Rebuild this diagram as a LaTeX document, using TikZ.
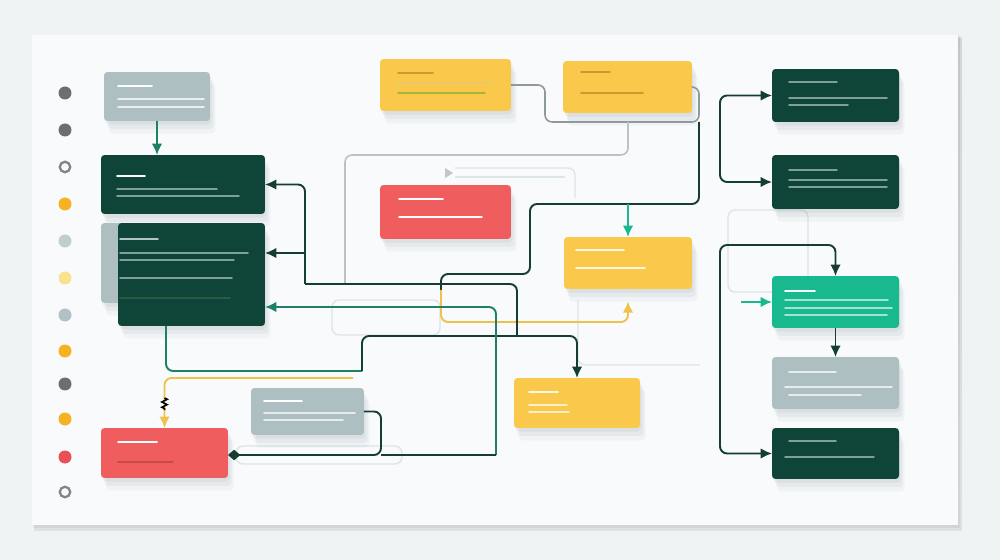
\documentclass[tikz,border=0pt]{standalone}
\usepackage{xcolor}
\usepackage{tikz}
\usetikzlibrary{shapes,arrows,arrows.meta,calc}
\usetikzlibrary{decorations.pathmorphing}

\definecolor{pagebg}{HTML}{EFF3F4}
\definecolor{cardbg}{HTML}{F8FAFB}
\definecolor{deep}{HTML}{0F4439}
\definecolor{slate}{HTML}{AEBFC1}
\definecolor{sun}{HTML}{FAC94B}
\definecolor{coral}{HTML}{EF5D5E}
\definecolor{mint}{HTML}{19B98F}
\definecolor{wire}{HTML}{163D33}
\definecolor{wireteal}{HTML}{1F8068}
\definecolor{wiregray}{HTML}{8E9A9A}
\definecolor{wiresun}{HTML}{EFC24A}
\definecolor{faint}{HTML}{DCE6E7}
\definecolor{ochre}{HTML}{C99A2C}
\definecolor{olive}{HTML}{A8B43A}
\definecolor{palesun}{HTML}{F3D27A}
\definecolor{dimline}{HTML}{7F9F97}
\definecolor{dimred}{HTML}{C84A4A}
\definecolor{dimgreen}{HTML}{2A5A40}
\definecolor{dotgray}{HTML}{6C6F71}
\definecolor{amber}{HTML}{F5B323}
\definecolor{paleamber}{HTML}{F9E28D}
\definecolor{mist}{HTML}{C2CDD0}
\definecolor{mistdark}{HTML}{B2C1C5}
\definecolor{dotred}{HTML}{EA4F55}
\definecolor{shade}{HTML}{5E7378}

% text bars inside a box: dx/dy/length/colour, measured from the top left corner
\newcommand{\boxbars}[2]{%
  \foreach \dx/\dy/\len/\cc in {#2}
    {\draw[txtbar, draw=\cc] ($(#1.north west)+(\dx,\dy)$) -- ++(\len,0);}}

\begin{document}
\begin{tikzpicture}[x=0.02cm, y=-0.02cm,
			block/.style={
					rectangle,
					rounded corners=2pt,
					inner sep=0pt,
					outer sep=0pt,
					minimum width=2.54cm,
					minimum height=1.04cm,
					preaction={fill=shade, opacity=0.05, transform canvas={xshift=3pt, yshift=-7pt}},
					preaction={fill=shade, opacity=0.07, transform canvas={xshift=2pt, yshift=-4.5pt}},
					preaction={fill=shade, opacity=0.08, transform canvas={xshift=0.8pt, yshift=-2pt}}
				},
			txtbar/.style={line width=1pt, line cap=round},
			line/.style={draw=wire, line width=1.1pt, rounded corners=4pt, -{Latex[length=6.5pt, width=6pt]}},
			tline/.style={line, draw=wireteal},
			yline/.style={line, draw=wiresun},
			gline/.style={draw=wiregray, line width=0.9pt, rounded corners=4pt},
			guide/.style={draw=faint, line width=0.8pt, rounded corners=4pt}
		]
		\useasboundingbox (0,0) rectangle (1000,560);
		% Background and card
		\fill[pagebg] (0,0) rectangle (1000,560);
		\fill[shade, opacity=0.08] (34,38) rectangle (962,531);
		\fill[shade, opacity=0.06] (33,36) rectangle (960,528);
		\fill[cardbg] (32,35) rectangle (958,525);

		% Dots on the left
		\foreach \yy/\cc in {93/dotgray, 130/dotgray, 204/amber, 241/mist, 278/paleamber,
				315/mistdark, 351/amber, 384/dotgray, 419/amber, 457/dotred}
		\fill[\cc] (65,\yy) circle (0.13cm);
		\foreach \yy in {167, 492}
		\draw[dotgray!85, line width=1.3pt] (65,\yy) circle (0.105cm);

		% Faint guides
		\draw[guide] (332,300) rectangle (440,335);
		\draw[guide] (236,446) rectangle (402,464);
		\draw[guide] (578,300) -- (578,365) -- (700,365);
		\draw[guide] (728,210) rectangle (808,292);
		\draw[guide] (455,168) -- (575,168) -- (575,198);
		\draw[guide] (455,177) -- (565,177);
		\fill[faint!60!wiregray] (445,168) -- (453,173) -- (445,178) -- cycle;

		% Place nodes
		\node[block, fill=slate, minimum width=2.12cm, minimum height=0.98cm] (lgray) at (157,96.5) {};
		\node[block, fill=deep, minimum width=3.28cm, minimum height=1.18cm] (ldark) at (183,184.5) {};
		\node[block, fill=slate, minimum width=0.96cm, minimum height=1.6cm] (lstrip) at (125,263) {};
		\node[block, fill=deep, minimum width=2.94cm, minimum height=2.06cm] (lbig) at (191.5,274.5) {};
		\node[block, fill=sun, minimum width=2.62cm] (suna) at (445.5,85) {};
		\node[block, fill=sun, minimum width=2.58cm] (sunb) at (627.5,87) {};
		\node[block, fill=coral, minimum width=2.62cm, minimum height=1.08cm] (coralmid) at (445.5,212) {};
		\node[block, fill=sun, minimum width=2.56cm] (sunmid) at (628,263) {};
		\node[block, fill=sun, minimum width=2.52cm, minimum height=1cm] (sunlow) at (577,403) {};
		\node[block, fill=slate, minimum width=2.26cm, minimum height=0.94cm] (slatelow) at (307.5,411.5) {};
		\node[block, fill=coral, minimum height=1cm] (corallow) at (164.5,453) {};
		\node[block, fill=deep, minimum height=1.06cm] (rone) at (835.5,95.5) {};
		\node[block, fill=deep, minimum height=1.08cm] (rtwo) at (835.5,182) {};
		\node[block, fill=mint] (rthree) at (835.5,302) {};
		\node[block, fill=slate] (rfour) at (835.5,383) {};
		\node[block, fill=deep, minimum height=1.02cm] (rfive) at (835.5,453.5) {};

		% Bars in the boxes
		\boxbars{lgray}{14/14/34/white, 14/27/86/white!75!slate, 14/35/86/white!75!slate}
		\boxbars{ldark}{16/21/28/white, 16/34/100/dimline, 16/41/122/dimline}
		\boxbars{lbig}{2/16/38/dimline!60!white, 2/30/128/dimline, 2/37/114/dimline, 2/55/112/dimline, 2/75/110/dimgreen}
		\boxbars{suna}{18/14/35/ochre, 18/24/95/palesun!80!ochre, 18/34/87/olive}
		\boxbars{sunb}{18/11/29/ochre, 18/32/62/ochre}
		\boxbars{coralmid}{19/14/44/white, 19/32/83/white}
		\boxbars{sunmid}{12/13/48/white!85!sun, 12/31/69/white!85!sun}
		\boxbars{sunlow}{15/14/29/white!85!sun, 15/27/38/white!70!sun, 15/34/40/white!70!sun}
		\boxbars{slatelow}{13/13/38/white, 13/25/91/white!70!slate, 13/32/79/white!70!slate}
		\boxbars{corallow}{17/14/39/white, 17/34/55/dimred}
		\boxbars{rone}{17/13/48/dimline, 17/29/98/dimline, 17/36/59/dimline}
		\boxbars{rtwo}{17/15/48/dimline, 17/25/98/dimline, 17/32/98/dimline}
		\boxbars{rthree}{13/15/30/white, 13/24/103/white!60!mint, 13/32/107/white!60!mint, 13/39/102/white!60!mint}
		\boxbars{rfour}{17/15/47/white!70!slate, 13/30/107/white!70!slate, 17/38/72/white!70!slate}
		\boxbars{rfive}{17/13/47/dimline, 13/29/89/dimline}

		% Junctions
		\coordinate (gA) at (545,122);
		\coordinate (gB) at (699,122);
		\coordinate (gC) at (628,122);
		\coordinate (gD) at (345,283);
		\coordinate (dA) at (530,204);
		\coordinate (dB) at (441,274);
		\coordinate (dC) at (441,290);
		\coordinate (tA) at (305,284);
		\coordinate (tB) at (517,336);
		\coordinate (cT) at (362,371);
		\coordinate (cU) at (362,336);
		\coordinate (eA) at (381,455);
		\coordinate (eB) at (496,455);
		\coordinate (yS) at (353,378);
		\coordinate (rA) at (720,140);
		\coordinate (rB) at (720,350);
		\coordinate (tS) at (741,302);

		% Draw edges
		\path[tline] (lgray.south) -- (lgray.south |- ldark.north);
		\draw[gline] (suna.east) -| (gA) -- (gB) |- (sunb.east);
		\draw[gline, draw=wiregray!60] (gC) -- ++(0,33) -| (gD);
		\path[line, -] (gB) |- (dA) |- (dB) -- (dC);
		\path[yline, shorten >=7pt] (dC) |- (sunmid.south |- 0,322) -- (sunmid.south);
		\path[tline, draw=mint] (sunmid.north |- dA) -- (sunmid.north);
		\path[line] (tA) |- (ldark.east);
		\path[line] (tA |- 0,253) -- (lbig.east |- 0,253);
		\path[line, -] (tA) -| (tB);
		\path[tline, -] ($(lbig.south west)+(48,0)$) |- (cT);
		\path[line] (cT) -- (cU) -| (sunlow.north);
		\path[tline] (eB) |- ($(lbig.south east)+(0,-19)$);
		\path[line, -] (eA) -- (eB);
		\path[line, -{Diamond[length=7pt, width=6pt]}] (slatelow.east) -| (eA) -- (corallow.east |- eA);
		\path[yline] (yS) -| (corallow.north);
		\draw[black, line width=0.9pt, decorate, decoration={zigzag, segment length=3pt, amplitude=1.5pt}]
		($(corallow.north)+(0,-30)$) -- ++(0,12);
		\path[line] (rA) |- (rone.west);
		\path[line] (rA) |- (rtwo.west);
		\path[line] (rB) |- ($(rthree.north)+(0,-31)$) -- (rthree.north);
		\path[line] (rB) |- (rfive.west);
		\path[tline, draw=mint] (tS) -- (rthree.west);
		\path[line] (rthree.south) -- (rfour.north);
	\end{tikzpicture}
\end{document}
